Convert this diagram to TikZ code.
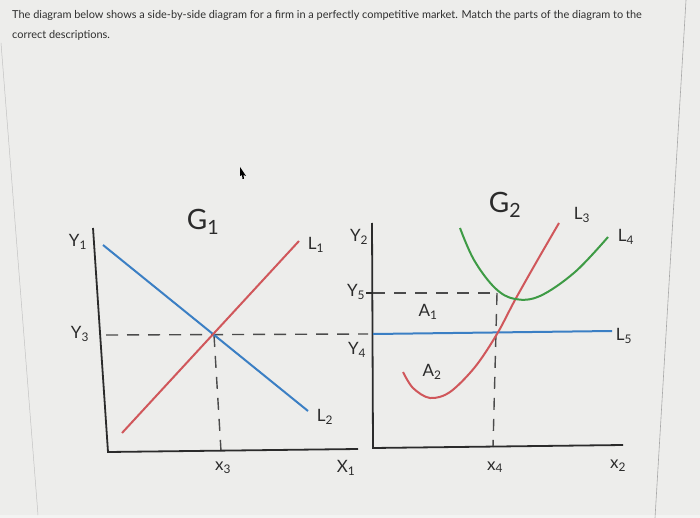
\documentclass[tikz,border=0pt]{standalone}
\usepackage{fontspec}
\setmainfont{Lato}
\usetikzlibrary{calc}
\definecolor{bg}{HTML}{EDEDEB}
\definecolor{bgb}{HTML}{F3F3F2}
\definecolor{edge}{HTML}{A8A8A8}
\definecolor{ink}{HTML}{2B2B2B}
\definecolor{cblue}{HTML}{3B7FC4}
\definecolor{cred}{HTML}{D0575B}
\definecolor{cgreen}{HTML}{3E9B45}
\definecolor{txt}{HTML}{2E2E2E}
\tikzset{
  axisline/.style={draw=ink, line width=1.8pt},
  dashline/.style={draw=ink!85, line width=1.4pt, dash pattern=on 12pt off 9pt},
  curve/.style={line width=2pt},
  lab/.style={font=\fontsize{17}{17}\selectfont, text=ink, inner sep=0pt},
  biglab/.style={font=\fontsize{28}{28}\selectfont, text=ink, inner sep=0pt},
  title/.style={font=\fontsize{10.95}{12}\selectfont, text=txt, inner sep=0pt, anchor=base west}
}
\newcommand{\sublab}[2]{#1\textsubscript{#2}}
\begin{document}
\begin{tikzpicture}[x=1pt,y=-1pt]
\useasboundingbox (0,0) rectangle (700,518);
\fill[bg] (0,0) rectangle (700,518);
\fill[bgb] (0,515) rectangle (700,518);
\draw[edge, line width=0.6pt] (686,0) -- (655,518);
\draw[edge!70, line width=0.5pt] (1,43) -- (38,515);

% title
\node[title] (t1) at (12,19) {The diagram below shows a side-by-side diagram for a firm in a perfectly competitive market. Match the parts of the diagram to the};
\node[title] (t2) at (12,39) {correct descriptions.};

% cursor
\fill[black] (240,167) -- (246,176) -- (243.5,175) -- (244,179) -- (242.5,179) -- (242,175) -- (240,176) -- cycle;

% ---------- left graph ----------
\coordinate (l0) at (108,452);
\coordinate (ltop) at (93,228);
\coordinate (lx) at (358,449);
\coordinate (e1) at (214,335);
\coordinate (y3s) at (106,335);
\coordinate (y3e) at (368,334);
\coordinate (x3b) at (221,451);
\draw[dashline] (y3s) -- (y3e);
\draw[dashline] (e1) -- (x3b);
\draw[axisline] (ltop) -- (l0) -- (lx);
\coordinate (b1) at (103,245);
\coordinate (b2) at (308,411);
\coordinate (r1) at (122,433);
\coordinate (r2) at (299,241);
\draw[cblue, curve] (b1) -- (b2);
\draw[cred, curve] (r1) -- (r2);

\node[lab] (Y1) at (78,242) {\sublab{Y}{1}};
\node[lab] (Y3) at (80,334) {\sublab{Y}{3}};
\node[biglab] (G1) at (203,222) {\sublab{G}{1}};
\node[lab] (L1) at (316,245) {\sublab{L}{1}};
\node[lab] (L2) at (325,417) {\sublab{L}{2}};
\node[lab] (X3) at (223,468) {\sublab{x}{3}};
\node[lab] (X1) at (346,468) {\sublab{X}{1}};

% ---------- right graph ----------
\coordinate (r0) at (373,448);
\coordinate (rtop) at (372,223);
\coordinate (rx) at (623,445);
\draw[axisline] (366,293) -- (373,293);
\coordinate (y5e) at (497,293);
\draw[dashline] (373,293) -- (y5e);
\draw[dashline] (y5e) -- (493,447);
\draw[axisline] (rtop) -- (r0) -- (rx);
\draw[cblue, curve] (373,334) -- (612,331);
\draw[cred, curve] plot[smooth, tension=0.55] coordinates {(403,372) (413,388) (430,398) (450,392) (475,367) (497,334) (515,300) (537,261) (559,223)};
\draw[cgreen, curve] plot[smooth, tension=0.6] coordinates {(460,228) (474,260) (495,288) (515,299) (540,296) (575,272) (608,237)};

\node[lab] (Y2) at (359,237) {\sublab{Y}{2}};
\node[lab] (Y5) at (356,292) {\sublab{Y}{5}};
\node[lab] (Y4) at (357,350) {\sublab{Y}{4}};
\node[biglab] (G2) at (505,205) {\sublab{G}{2}};
\node[lab] (L3) at (582,215) {\sublab{L}{3}};
\node[lab] (L4) at (626,237) {\sublab{L}{4}};
\node[lab] (L5) at (624,336) {\sublab{L}{5}};
\node[lab] (A1) at (428,312) {\sublab{A}{1}};
\node[lab] (A2) at (432,372) {\sublab{A}{2}};
\node[lab] (X4) at (495,467) {\sublab{x}{4}};
\node[lab] (X2) at (618,466) {\sublab{x}{2}};
\end{tikzpicture}
\end{document}
